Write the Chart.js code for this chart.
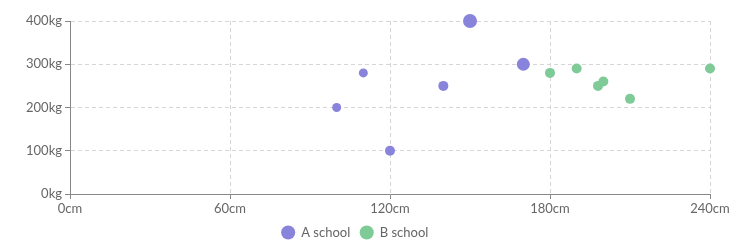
<!DOCTYPE html>
<html>
<head>
<meta charset="utf-8">
<script src="https://cdn.jsdelivr.net/npm/chart.js@4"></script>
<style>
  html, body { margin: 0; padding: 0; background: #fff; }
  #wrap { width: 730px; height: 250px; }
</style>
</head>
<body>
<div id="wrap"><canvas id="chart"></canvas></div>
<script>
// A school
const aHeight = [100, 110, 120, 140, 150, 170];
const aWeight = [200, 280, 100, 250, 400, 300];
const aSize   = [4.5, 4.5, 5, 5, 7, 6.5];

// B school
const bHeight = [180, 190, 198, 200, 210, 240];
const bWeight = [280, 290, 250, 260, 220, 290];
const bSize   = [5, 5, 5, 5, 5, 5];

const seriesNames = ['A school', 'B school'];
const xTicks = [0, 60, 120, 180, 240];
const yTicks = [0, 100, 200, 300, 400];

function toPoints(xs, ys, rs) {
    return xs.map((x, i) => ({ x: x, y: ys[i], r: rs[i] }));
}

Chart.defaults.font.family = 'Lato, "Noto Sans", sans-serif';
Chart.defaults.font.size = 13;
Chart.defaults.color = '#666';

new Chart(document.getElementById('chart').getContext('2d'), {
    type: 'bubble',
    data: {
        datasets: [
            {
                label: seriesNames[0],
                data: toPoints(aHeight, aWeight, aSize),
                backgroundColor: '#8984db',
                borderWidth: 0,
                hoverBorderWidth: 0,
                clip: false
            },
            {
                label: seriesNames[1],
                data: toPoints(bHeight, bWeight, bSize),
                backgroundColor: '#7ecb98',
                borderWidth: 0,
                hoverBorderWidth: 0,
                clip: false
            }
        ]
    },
    options: {
        responsive: true,
        maintainAspectRatio: false,
        animation: false,
        layout: { padding: { top: 21, right: 20, left: 0, bottom: 1 } },
        scales: {
            x: {
                type: 'linear',
                min: 0,
                max: 240,
                afterBuildTicks: s => { s.ticks = xTicks.map(v => ({ value: v })); },
                afterFit: s => { s.height = 22; s.paddingRight = 0; },
                ticks: {
                    padding: 2,
                    callback: v => v + 'cm'
                },
                grid: {
                    color: '#d6d6d6',
                    tickLength: 5,
                    tickColor: '#888',
                    tickBorderDash: []
                },
                border: { color: '#888', width: 1, dash: [4, 3] }
            },
            y: {
                type: 'linear',
                min: 0,
                max: 400,
                afterBuildTicks: s => { s.ticks = yTicks.map(v => ({ value: v })); },
                afterFit: s => { s.width = 70; },
                ticks: {
                    padding: 3,
                    callback: v => v + 'kg'
                },
                grid: {
                    color: '#d6d6d6',
                    tickLength: 5,
                    tickColor: '#888',
                    tickBorderDash: []
                },
                border: { color: '#888', width: 1, dash: [4, 3] }
            }
        },
        plugins: {
            legend: {
                position: 'bottom',
                labels: {
                    usePointStyle: true,
                    pointStyle: 'circle',
                    boxWidth: 14,
                    boxHeight: 10,
                    padding: 10,
                    color: '#666'
                }
            },
            tooltip: { enabled: false }
        }
    }
});
</script>
</body>
</html>
